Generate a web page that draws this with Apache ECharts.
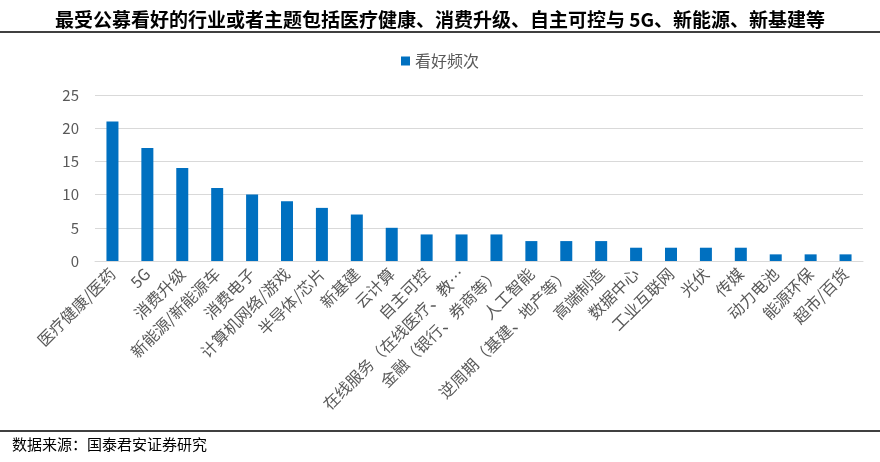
<!DOCTYPE html>
<html>
<head>
<meta charset="utf-8">
<script src="https://cdn.jsdelivr.net/npm/echarts@6/dist/echarts.min.js"></script>
<style>
  html, body { margin: 0; padding: 0; background: #fff; }
  #chart { width: 880px; height: 462px; }
</style>
</head>
<body>
<div id="chart"></div>
<script>
// 数据
const categories = [
  '医疗健康/医药', '5G', '消费升级', '新能源/新能源车', '消费电子',
  '计算机网络/游戏', '半导体/芯片', '新基建', '云计算', '自主可控',
  '在线服务（在线医疗、教…', '金融（银行、券商等）', '人工智能', '逆周期（基建、地产等）',
  '高端制造', '数据中心', '工业互联网', '光伏', '传媒', '动力电池', '能源环保', '超市/百货'
]
const counts = [21, 17, 14, 11, 10, 9, 8, 7, 5, 4, 4, 4, 3, 3, 3, 2, 2, 2, 2, 1, 1, 1]
const yTicks = [0, 5, 10, 15, 20, 25]

const chart = echarts.init(document.getElementById('chart'))
chart.setOption({
  animation: false,
  textStyle: { fontFamily: 'Noto Sans CJK SC' },
  title: {
    text: '最受公募看好的行业或者主题包括医疗健康、消费升级、自主可控与 5G、新能源、新基建等',
    left: 'center',
    top: 5,
    textStyle: { fontSize: 19, fontWeight: 'bold', color: '#000', fontFamily: 'Noto Sans CJK SC' }
  },
  legend: {
    data: ['看好频次'],
    top: 48,
    left: 'center',
    itemWidth: 9,
    itemHeight: 9,
    icon: 'rect',
    textStyle: { fontSize: 16, color: '#595959' }
  },
  grid: { left: 95, right: 17, top: 95, bottom: 201, containLabel: false },
  xAxis: {
    type: 'category',
    data: categories,
    axisTick: { show: false },
    axisLine: { lineStyle: { color: '#d9d9d9' } },
    axisLabel: { rotate: 45, interval: 0, fontSize: 16, color: '#595959', margin: 10 }
  },
  yAxis: {
    type: 'value',
    min: yTicks[0],
    max: yTicks[yTicks.length - 1],
    interval: 5,
    axisLine: { show: false },
    axisTick: { show: false },
    splitLine: { lineStyle: { color: '#d9d9d9' } },
    axisLabel: { fontSize: 15, color: '#595959', margin: 16 }
  },
  series: [{
    name: '看好频次',
    type: 'bar',
    data: counts,
    barWidth: 12,
    itemStyle: { color: '#0070c0' }
  }],
  graphic: [
    { type: 'line', shape: { x1: 0, y1: 32, x2: 880, y2: 32 }, style: { stroke: '#000', lineWidth: 1.5 } },
    { type: 'line', shape: { x1: 0, y1: 431, x2: 880, y2: 431 }, style: { stroke: '#000', lineWidth: 1.5 } },
    {
      type: 'text', left: 12, top: 437,
      style: { text: '数据来源：国泰君安证券研究', fontSize: 15, fill: '#000', fontFamily: 'Noto Sans CJK SC' }
    }
  ]
})
</script>
</body>
</html>
